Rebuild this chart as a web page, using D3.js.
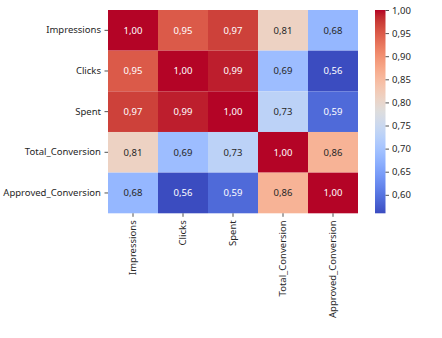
<!DOCTYPE html>
<html>
<head>
<meta charset="utf-8">
<script src="https://cdn.jsdelivr.net/npm/d3@7"></script>
<style>
  body { margin: 0; background: #fff; }
  text { font-family: "Noto Sans", sans-serif; font-size: 9.5px; fill: #262626; }
</style>
</head>
<body>
<div id="chart"></div>
<script>
var names = ["Impressions", "Clicks", "Spent", "Total_Conversion", "Approved_Conversion"];

// correlation rows, same order as names
var impressions = [1.00, 0.95, 0.97, 0.81, 0.68];
var clicks      = [0.95, 1.00, 0.99, 0.69, 0.56];
var spent       = [0.97, 0.99, 1.00, 0.73, 0.59];
var totalConv   = [0.81, 0.69, 0.73, 1.00, 0.86];
var approvedConv= [0.68, 0.56, 0.59, 0.86, 1.00];

var cbarTicks = [0.60, 0.65, 0.70, 0.75, 0.80, 0.85, 0.90, 0.95, 1.00];

// matplotlib "coolwarm" (Moreland diverging map)
var coolwarm = ["#3b4cc0","#445acc","#4d68d7","#5775e1","#6282ea","#6c8ef1","#779af7","#82a5fb",
  "#8db0fe","#98b9ff","#a3c2ff","#aec9fd","#b8d0f9","#c2d5f4","#ccd9ee","#d5dbe6","#dddddd",
  "#e5d8d1","#ecd3c5","#f1ccb9","#f5c4ad","#f7bba0","#f7b194","#f7a687","#f49a7b","#f18d6f",
  "#ec7f63","#e57058","#de604d","#d55042","#cb3e38","#c0282f","#b40426"];

var rows = [impressions, clicks, spent, totalConv, approvedConv];

var width = 442, height = 338;
var mapLeft = 108, mapTop = 10, mapW = 250, mapH = 203.3;
var cbX = 375, cbW = 10.5;

var DEC = function(v){ return d3.format(".2f")(v).replace(".", ","); };

var svg = d3.select("#chart").append("svg")
  .attr("width", width)
  .attr("height", height);

var cells = [];
rows.forEach(function(r, i){
  r.forEach(function(v, j){ cells.push({row: i, col: j, value: v}); });
});

var extent = d3.extent(cells, function(d){ return d.value; });
var interp = d3.piecewise(d3.interpolateRgb, coolwarm);
var color = d3.scaleSequential(interp).domain(extent);

var x = d3.scaleBand().domain(names).range([mapLeft, mapLeft + mapW]);
var y = d3.scaleBand().domain(names).range([mapTop, mapTop + mapH]);

function textColor(c){
  var rgb = d3.rgb(c);
  var lin = [rgb.r, rgb.g, rgb.b].map(function(u){
    u = u / 255;
    return u <= 0.03928 ? u / 12.92 : Math.pow((u + 0.055) / 1.055, 2.4);
  });
  var lum = 0.2126 * lin[0] + 0.7152 * lin[1] + 0.0722 * lin[2];
  return lum > 0.408 ? "#262626" : "#ffffff";
}

var g = svg.append("g");
g.selectAll("rect")
  .data(cells)
  .enter().append("rect")
    .attr("x", function(d){ return x(names[d.col]); })
    .attr("y", function(d){ return y(names[d.row]); })
    .attr("width", x.bandwidth())
    .attr("height", y.bandwidth())
    .attr("fill", function(d){ return color(d.value); });

g.selectAll("text.annot")
  .data(cells)
  .enter().append("text")
    .attr("class", "annot")
    .attr("x", function(d){ return x(names[d.col]) + x.bandwidth() / 2; })
    .attr("y", function(d){ return y(names[d.row]) + y.bandwidth() / 2; })
    .attr("text-anchor", "middle")
    .attr("dy", "0.35em")
    .style("fill", function(d){ return textColor(color(d.value)); })
    .text(function(d){ return DEC(d.value); });

// axes
var yAxis = svg.append("g")
  .attr("transform", "translate(" + mapLeft + ",0)")
  .call(d3.axisLeft(y).tickSize(3.5).tickPadding(3.5));
var xAxis = svg.append("g")
  .attr("transform", "translate(0," + (mapTop + mapH) + ")")
  .call(d3.axisBottom(x).tickSize(3.5).tickPadding(3.5));
xAxis.selectAll("text")
  .attr("text-anchor", "end")
  .attr("transform", "rotate(-90)")
  .attr("x", -7)
  .attr("y", 0)
  .attr("dy", "0.35em");

[yAxis, xAxis].forEach(function(a){
  a.select(".domain").remove();
  a.selectAll("line").attr("stroke", "#262626").attr("stroke-width", 0.8);
  a.selectAll("text").attr("font-size", null).attr("font-family", null);
});

// colorbar
var cbScale = d3.scaleLinear().domain(extent).range([mapTop + mapH, mapTop]);
var defs = svg.append("defs");
var grad = defs.append("linearGradient")
  .attr("id", "cbar")
  .attr("x1", 0).attr("y1", 1).attr("x2", 0).attr("y2", 0);
coolwarm.forEach(function(c, i){
  grad.append("stop")
    .attr("offset", i / (coolwarm.length - 1))
    .attr("stop-color", c);
});
svg.append("rect")
  .attr("x", cbX)
  .attr("y", mapTop)
  .attr("width", cbW)
  .attr("height", mapH)
  .attr("fill", "url(#cbar)");

var cAxis = svg.append("g")
  .attr("transform", "translate(" + (cbX + cbW) + ",0)")
  .call(d3.axisRight(cbScale).tickValues(cbarTicks).tickFormat(DEC).tickSize(3.5).tickPadding(3));
cAxis.select(".domain").remove();
cAxis.selectAll("line").attr("stroke", "#262626").attr("stroke-width", 0.8);
cAxis.selectAll("text").attr("font-size", null).attr("font-family", null);
</script>
</body>
</html>
